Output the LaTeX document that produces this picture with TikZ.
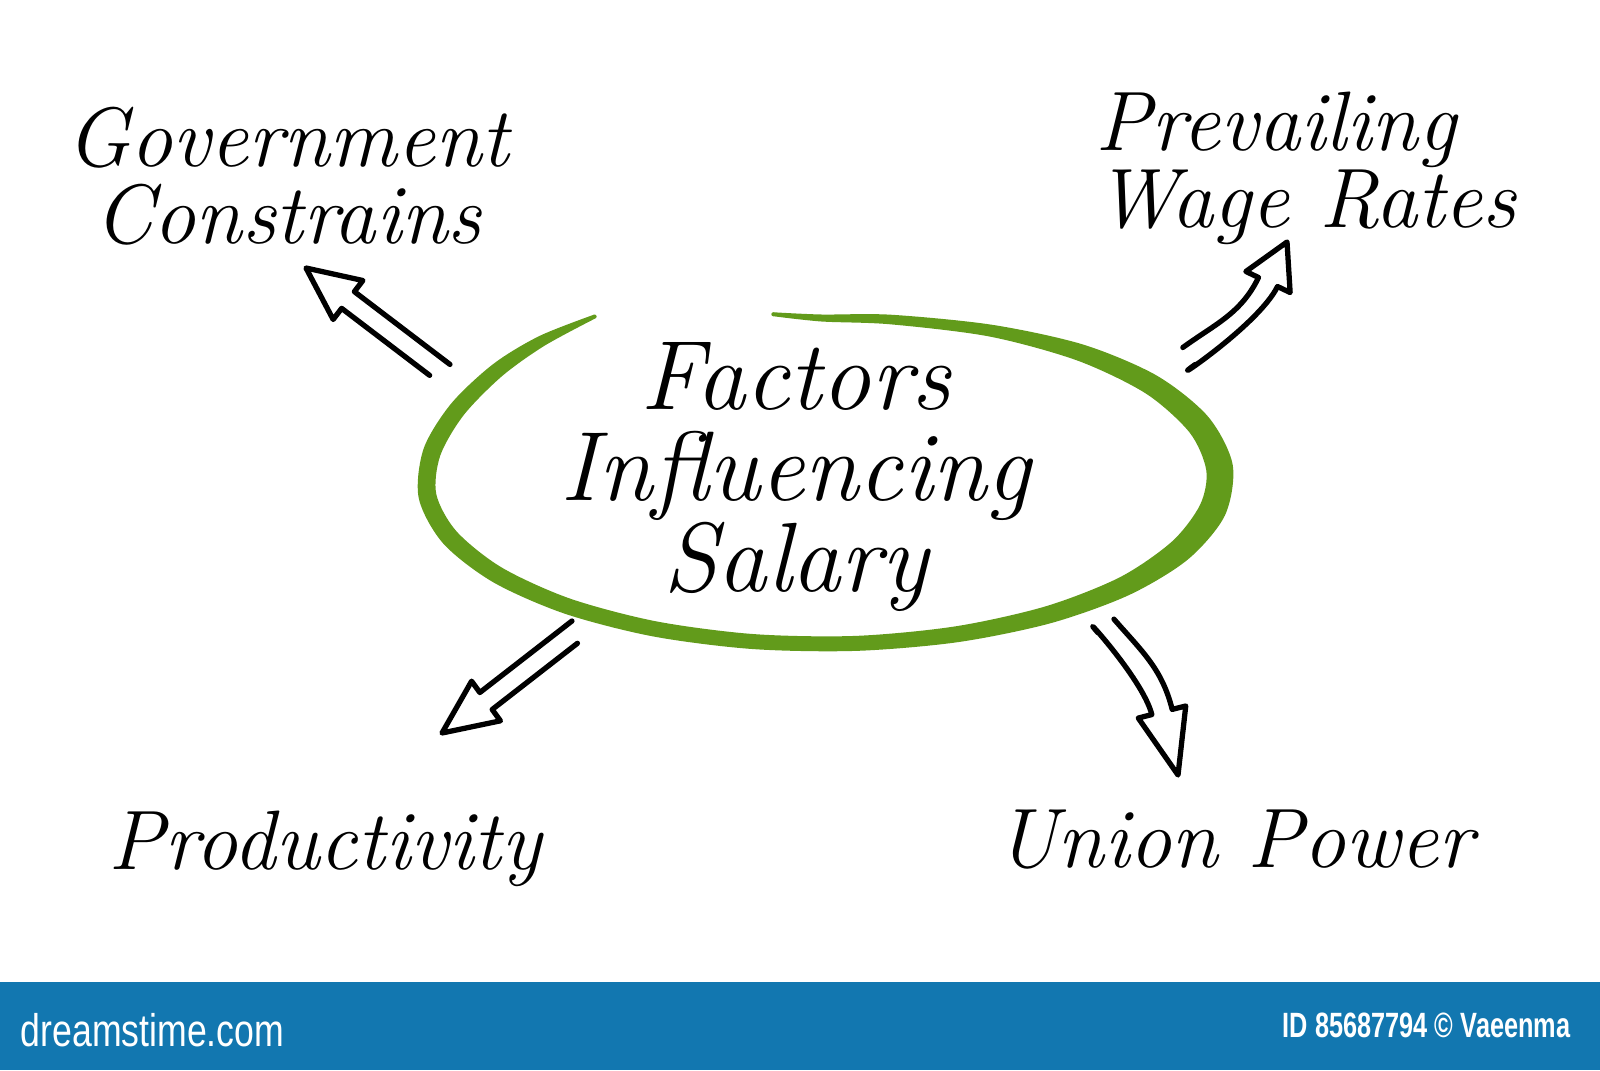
\documentclass[tikz,border=0pt]{standalone}
\usepackage{fontspec}
\usepackage{graphicx}
\newfontfamily\barfont{Liberation Sans}
\usetikzlibrary{calc}

\definecolor{ringgreen}{RGB}{98,155,27}
\definecolor{barblue}{RGB}{18,119,176}

\tikzset{
  factortext/.style={font=\fontsize{24}{22}\selectfont\itshape\addfontfeature{FakeBold=2.5}, align=center},
  maintext/.style={font=\fontsize{28}{26}\selectfont\itshape\addfontfeature{FakeBold=2.5}, align=center},
  bartext/.style={font=\barfont, text=white, inner sep=0pt},
  hollow/.style={line width=1.5pt, line join=round, line cap=round},
}

% flecha hueca: #1 cola, #2 cuello, #3 punta, #4 salida, #5 llegada, #6 vuelta
\newcommand{\hollowarrow}[6]{%
  \draw[hollow] ($(#1)+(#4+90:0.105)$) to[out=#4, in=#5] ($(#2)!0.105cm!90:(#3)$)
    -- ($(#2)!0.245cm!90:(#3)$) -- (#3) -- ($(#2)!0.245cm!-90:(#3)$)
    -- ($(#2)!0.105cm!-90:(#3)$) to[out=#5, in=#6] ($(#1)+(#4-90:0.105)$);}

\begin{document}
\begin{tikzpicture}
\useasboundingbox (0,0) rectangle (16,10.7);
% Nodos
\node [maintext] (salary) at (7.96,5.93) {Factors\\Influencing\\Salary};
\node [factortext] (gc) at (2.88,8.94) {Government\\Constrains};
\node [factortext, align=left] (pw) at (13.06,9.02) {Prevailing\\Wage Rates};
\node [factortext] (pr) at (3.25,2.21) {Productivity};
\node [factortext] (up) at (12.35,2.30) {Union Power};
% Elipse: angulo / crece a / crece b / semiancho
\foreach \t/\ga/\gb/\w [count=\i] in {97/0/0.07/0.02, 90/0/0.02/0.035,
    80/0.02/0.03/0.048, 65/0.05/0.05/0.06, 50/0.07/0.07/0.085, 35/0.07/0.08/0.105,
    20/0.06/0.06/0.122, 5/0.04/0.03/0.135, -10/0.015/0/0.135, -25/0/0/0.12,
    -40/0/0/0.10, -55/0/0/0.088, -70/0/0/0.08, -85/0/0/0.075, -100/0/0/0.075,
    -115/0/0/0.077, -130/0/0/0.08, -145/0/0/0.085, -160/0/0/0.09, -175/0/0/0.09,
    -190/0/0.11/0.09, -203/0/0.24/0.085, -215/0/0.33/0.075, -225/0/0.375/0.055,
    -235/0/0.40/0.02} {
  \pgfmathsetmacro\axa{3.955+\ga}
  \pgfmathsetmacro\axb{1.62+\gb}
  \pgfmathsetmacro\nx{\axb*cos(\t)}
  \pgfmathsetmacro\ny{\axa*sin(\t)}
  \pgfmathsetmacro\nl{veclen(\nx,\ny)}
  \coordinate (c\i) at ({8.215+\axa*cos(\t)}, {5.88+\axb*sin(\t)});
  \coordinate (o\i) at ($(c\i)+({\w*\nx/\nl},{\w*\ny/\nl})$);
  \coordinate (n\i) at ($(c\i)-({\w*\nx/\nl},{\w*\ny/\nl})$);
}
\fill [ringgreen] plot [smooth] coordinates {(o1) (o2) (o3) (o4) (o5) (o6) (o7) (o8)
    (o9) (o10) (o11) (o12) (o13) (o14) (o15) (o16) (o17) (o18) (o19) (o20) (o21)
    (o22) (o23) (o24) (o25)}
  -- plot [smooth] coordinates {(n25) (n24) (n23) (n22) (n21) (n20) (n19) (n18)
    (n17) (n16) (n15) (n14) (n13) (n12) (n11) (n10) (n9) (n8) (n7) (n6) (n5) (n4)
    (n3) (n2) (n1)} -- cycle;
\fill [ringgreen] (c1) circle (0.02) (c25) circle (0.02);
% Flechas
% ---
\coordinate (gc-tail) at (4.36,7.03);
\coordinate (gc-neck) at (3.48,7.70);
\coordinate (gc-tip)  at (3.06,8.02);
\hollowarrow{gc-tail}{gc-neck}{gc-tip}{142.7}{322.7}{322.7}
% ---
\coordinate (pw-tail) at (11.89,7.14);
\coordinate (pw-neck) at (12.68,7.88);
\coordinate (pw-tip)  at (12.87,8.28);
\hollowarrow{pw-tail}{pw-neck}{pw-tip}{36}{244}{216}
% ---
\coordinate (pr-tail) at (5.71,4.35);
\coordinate (pr-neck) at (4.86,3.69);
\coordinate (pr-tip)  at (4.42,3.37);
\hollowarrow{pr-tail}{pr-neck}{pr-tip}{217.8}{37.8}{37.8}
% ---
\coordinate (up-tail) at (11.06,4.44);
\coordinate (up-neck) at (11.62,3.58);
\coordinate (up-tip)  at (11.78,2.95);
\hollowarrow{up-tail}{up-neck}{up-tip}{-49}{104}{131}
% Barra
\fill [barblue] (0,0) rectangle (16,0.88);
\node [bartext, anchor=west] (site) at (0.2,0.40)
  {\fontsize{13}{13}\selectfont\scalebox{0.78}[1]{dreamstime.com}};
\node [bartext, anchor=east] (credit) at (15.71,0.445)
  {\fontsize{10}{10}\selectfont\bfseries\scalebox{0.72}[1]{ID 85687794 © Vaeenma}};
\end{tikzpicture}
\end{document}
